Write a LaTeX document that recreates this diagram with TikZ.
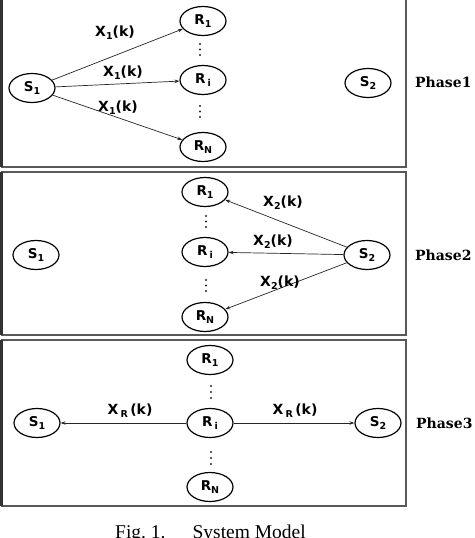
\documentclass[tikz,border=0pt]{standalone}
\usepackage{fontspec}
\setmainfont{Liberation Serif}
\newfontfamily\nfont{DejaVu Sans}
\newfontfamily\pfont{DejaVu Serif}
\usetikzlibrary{arrows.meta,shapes.geometric}
\newcommand\sbs[1]{\raisebox{-0.35ex}{\fontsize{9.5}{10}\selectfont #1}}
\begin{document}
\begin{tikzpicture}[x=1pt,y=-1pt,
  nd/.style={draw=black,line width=1.2pt,ellipse,minimum width=46pt,minimum height=29pt,inner sep=0pt,font=\nfont\bfseries\fontsize{13.5}{13.5}\selectfont},
  lbl/.style={font=\nfont\bfseries\fontsize{14}{14}\selectfont,inner sep=0pt},
  ph/.style={font=\pfont\bfseries\fontsize{14}{14}\selectfont,anchor=west,inner sep=0pt},
  dot/.style={fill=black!85},
  arr/.style={draw=black!85,line width=0.7pt,-{Stealth[length=5pt,width=3.5pt]}},
  panel/.style={draw=black!65,line width=1.3pt}]
\useasboundingbox (0,0) rectangle (474,538);
\clip (0,0) rectangle (474,538);
\fill[white] (0,0) rectangle (474,538);
% panels
\draw[panel] (2,-2) rectangle (406,167);
\draw[panel] (2,172) rectangle (406,335);
\draw[panel] (2,340) rectangle (406,506);
\draw[black!80,line width=2.5pt] (1.5,-2) -- (1.5,167) (1.5,172) -- (1.5,335) (1.5,340) -- (1.5,506);
% Phase 1
\node[nd] (p1s1) at (32,88) {S\sbs{1}};
\node[nd] (p1r1) at (203,21) {R\sbs{1}};
\node[nd] (p1ri) at (203,80) {R\,\sbs{i}};
\node[nd] (p1rn) at (203,147) {R\sbs{N}};
\node[nd] (p1s2) at (368,83) {S\sbs{2}};
\foreach \y in {44,49.5,55,106,111.5,117} \fill[dot] (200,\y) circle (1.1);
\draw[arr] (p1s1) -- (p1r1);
\draw[arr] (p1s1) -- (p1ri);
\draw[arr] (p1s1) -- (p1rn);
\node[lbl] (p1l1) at (115,33) {X\sbs{1}(k)};
\node[lbl] (p1l2) at (123,73) {X\sbs{1}(k)};
\node[lbl] (p1l3) at (118,108) {X\sbs{1}(k)};
\node[ph] (ph1) at (415,82) {Phase1};
% Phase 2
\node[nd] (p2s1) at (36,255) {S\sbs{1}};
\node[nd] (p2r1) at (205,192) {R\sbs{1}};
\node[nd] (p2ri) at (205,252) {R\,\sbs{i}};
\node[nd] (p2rn) at (205,317) {R\sbs{N}};
\node[nd] (p2s2) at (367,255) {S\sbs{2}};
\foreach \y in {216,221.5,227,280,285.5,291} \fill[dot] (206,\y) circle (1.1);
\draw[arr] (p2s2) -- (p2r1);
\draw[arr] (p2s2) -- (p2ri);
\draw[arr] (p2s2) -- (p2rn);
\node[lbl] (p2l1) at (283,203) {X\sbs{2}(k)};
\node[lbl] (p2l2) at (273,242) {X\sbs{2}(k)};
\node[lbl] (p2l3) at (280,283) {X\sbs{2}(k)};
\node[ph] (ph2) at (415,255) {Phase2};
% Phase 3
\node[nd] (p3s1) at (37,423) {S\sbs{1}};
\node[nd] (p3r1) at (210,360) {R\sbs{1}};
\node[nd] (p3ri) at (210,423) {R\,\sbs{i}};
\node[nd] (p3rn) at (210,487) {R\sbs{N}};
\node[nd] (p3s2) at (378,423) {S\sbs{2}};
\foreach \y in {386,392,398,452,458,464} \fill[dot] (211,\y) circle (1.1);
\draw[arr] (p3ri) -- (p3s1);
\draw[arr] (p3ri) -- (p3s2);
\node[lbl] (p3l1) at (130,411) {X\,\sbs{R}\,(k)};
\node[lbl] (p3l2) at (295,411) {X\,\sbs{R}\,(k)};
\node[ph] (ph3) at (416,423) {Phase3};
% caption
\node[anchor=base west,inner sep=0pt,font=\fontsize{19.5}{20}\selectfont] (cap) at (115,538) {Fig.~1.\hspace{27pt}System Model};
\end{tikzpicture}
\end{document}
